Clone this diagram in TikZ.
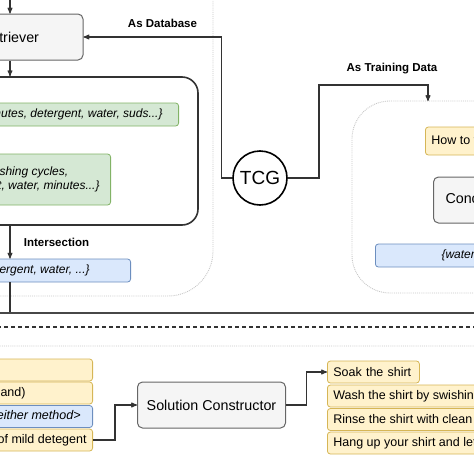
\documentclass[tikz,border=0pt]{standalone}
\usepackage{fontspec}
\setmainfont{Liberation Sans}
\usetikzlibrary{arrows,calc}
\definecolor{gfill}{HTML}{F5F5F5}
\definecolor{gline}{HTML}{666666}
\definecolor{yfill}{HTML}{FFF2CC}
\definecolor{yline}{HTML}{D6B656}
\definecolor{vfill}{HTML}{D5E8D4}
\definecolor{vline}{HTML}{82B366}
\definecolor{bfill}{HTML}{DAE8FC}
\definecolor{bline}{HTML}{6C8EBF}
\definecolor{ink}{HTML}{333333}
\tikzset{
    proc/.style =   {rectangle,
                    rounded corners=5pt,
                    fill=gfill,
                    draw=gline,
                    text=black,
                    line width=1pt,
                    font=\fontsize{14.3}{16}\selectfont},
    pool/.style =   {rectangle,
                    rounded corners=16pt,
                    fill=none,
                    draw=ink,
                    line width=1.6pt},
    gset/.style =   {rectangle,
                    rounded corners=3pt,
                    fill=vfill,
                    draw=vline,
                    text=black,
                    line width=0.8pt,
                    font=\fontsize{12}{14.5}\selectfont\itshape},
    bset/.style =   {gset,
                    fill=bfill,
                    draw=bline},
    stepbox/.style = {rectangle,
                    rounded corners=3pt,
                    fill=yfill,
                    draw=yline,
                    text=black,
                    line width=0.8pt,
                    inner xsep=6pt,
                    minimum height=22pt,
                    font=\fontsize{12.5}{14}\selectfont},
    bstep/.style =  {stepbox,
                    fill=bfill,
                    draw=bline,
                    font=\fontsize{12.5}{14}\selectfont\itshape},
    tag/.style =    {text=black,
                    font=\fontsize{11.5}{13}\selectfont\bfseries},
    tcg/.style =    {circle,
                    draw=black,
                    text=black,
                    line width=1.6pt,
                    minimum size=54pt,
                    inner sep=0pt,
                    font=\fontsize{19}{19}\selectfont},
    zone/.style =   {densely dotted,
                    draw=black!22,
                    line width=0.9pt},
    rail/.style =   {draw=ink!90,
                    line width=1.6pt},
    cut/.style =    {draw=ink,
                    dashed,
                    dash pattern=on 4pt off 3pt,
                    line width=1.6pt},
    >=stealth'}

\begin{document}
\begin{tikzpicture}[x=1pt,y=-1pt,line width=1.1pt,color=ink,text=black]
    \useasboundingbox (0,0) rectangle (474,474);
    \clip (0,0) rectangle (474,474);

    % dotted zones
    \draw[zone, rounded corners=45pt] (213,-60) -- (213,296) -- (-60,296);
    \draw[zone, rounded corners=38pt] (540,101) -- (352,101) -- (352,293) -- (540,293);
    \draw[zone, rounded corners=20pt] (-30,520) -- (-30,346) -- (520,346) -- (520,520);

    % retrieval
    \coordinate (in) at (10,-10);
    \node[proc, minimum width=146pt, minimum height=46pt]   (ret)   at (10,37)      {Retriever};
    \node[pool, minimum width=376pt, minimum height=148pt]  (pool)  at (10,151)     {};
    \node[gset, anchor=east, inner xsep=16pt, minimum height=23pt]  (full)  at (179,114.5)
        {\{washing cycles, minutes, detergent, water, suds...\}};
    \node[gset, anchor=east, inner xsep=11pt, minimum height=51pt, align=left] (part) at (111,179.5)
        {\{shirt, washing cycles,\\detergent, water, minutes...\}};
    \node[bset, anchor=east, inner xsep=41pt, minimum height=23pt]  (inter) at (131,270.5)
        {\{detergent, water, ...\}};

    \draw[->]  (in) -- (ret.north);
    \draw[->]  (ret.south) -- (pool.north);
    \draw[->]  (pool.south) -- (pool.south |- inter.north);
    \node[tag]  (isect) at (56.5,242)   {Intersection};

    % rails
    \coordinate (railL) at (-10,313);
    \coordinate (railR) at (490,313);
    \coordinate (cutL)  at (-10,327);
    \coordinate (cutR)  at (490,327);
    \draw  (pool.south |- inter.south) -- (pool.south |- railL);
    \draw[rail]  (railL) -- (railR);
    \draw[cut]   (cutL) -- (cutR);

    % tcg
    \node[tcg]  (tcg)   at (260,178)    {TCG};
    \draw[->]  (tcg.west) -- ++(-11,0) |- (ret.east);
    \node[tag]  (asdb)  at (162.5,23)   {As Database};
    \coordinate (bend)  at (319,85);
    \coordinate (train) at (428,101);
    \draw[->]  (tcg.east) -| (bend) -| (train);
    \node[tag]  (astd)  at (392,69)     {As Training Data};

    % training side
    \node[stepbox, anchor=west, minimum height=28pt] (query) at (425,141)
        {How to wash a shirt by hand?};
    \node[proc, anchor=west, inner xsep=12pt, minimum height=46pt]  (concept) at (433,200) {Concept Extractor};
    \node[bset, anchor=west, minimum width=243pt, minimum height=23pt] (keys) at (375,255.5)
        {\{water, detergent, ...\}};

    % plan
    \node[stepbox, anchor=east, inner xsep=100pt] (p1) at (93,370)   {Soak the shirt};
    \node[stepbox, anchor=east, inner xsep=67pt]  (p2) at (93,393)   {Wash the shirt (by machine or by hand)};
    \node[bstep,   anchor=east, inner xsep=12pt]  (p3) at (93,416.5) {<Wash the shirt using either method>};
    \node[stepbox, anchor=east, inner xsep=6pt]   (p4) at (93,440)   {Use a small amount of mild detegent};

    \node[proc, minimum width=148pt, minimum height=46pt] (sc) at (211.5,405) {Solution Constructor};

    \node[stepbox, anchor=west, text width=80pt] (s1) at (327,372)   {Soak the shirt};
    \node[stepbox, anchor=west] (s2) at (327,396)   {Wash the shirt by swishing it in the water};
    \node[stepbox, anchor=west] (s3) at (327,419.5) {Rinse the shirt with clean water};
    \node[stepbox, anchor=west] (s4) at (327,443)   {Hang up your shirt and let it dry};

    \draw[->]  (p4.east) -- ++(22,0) |- (sc.west);
    \draw[->]  (sc.east) -- ++(20.5,0) |- (s1.west);
\end{tikzpicture}
\end{document}
